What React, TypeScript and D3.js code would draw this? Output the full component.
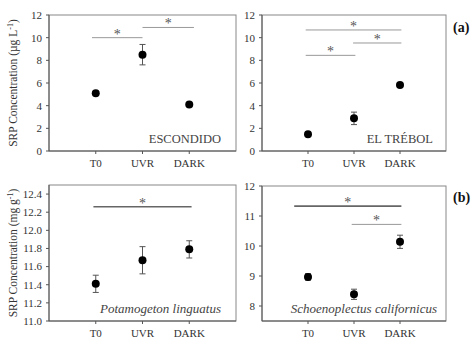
import React from "react";
import * as d3 from "d3";

const categories = ["T0", "UVR", "DARK"];

// Panel (a) left: ESCONDIDO
const escMean = [5.1, 8.5, 4.1];
const escErr = [0.15, 0.9, 0.15];
// Panel (a) right: EL TRÉBOL
const treMean = [1.47, 2.88, 5.83];
const treErr = [0.12, 0.55, 0.12];
// Panel (b) left: Potamogeton linguatus
const potMean = [11.41, 11.67, 11.79];
const potErr = [0.095, 0.15, 0.095];
// Panel (b) right: Schoenoplectus californicus
const schMean = [8.97, 8.39, 10.14];
const schErr = [0.11, 0.17, 0.22];

const escTicks = [0, 2, 4, 6, 8, 10, 12];
const treTicks = [0, 2, 4, 6, 8, 10, 12];
const potTicks = [11.0, 11.2, 11.4, 11.6, 11.8, 12.0, 12.2, 12.4];
const schTicks = [8, 9, 10, 11, 12];

// significance brackets: [from, to, yValue, dark]
const escSig = [[-0.08, 1, 10.0, 0], [1, 2.1, 10.9, 0]];
const treSig = [[-0.05, 2.03, 10.68, 0], [0.98, 2.03, 9.53, 0], [-0.05, 1.03, 8.44, 0]];
const potSig = [[-0.05, 2.05, 12.26, 1]];
const schSig = [[-0.3, 2.03, 11.33, 1], [0.95, 2.03, 10.72, 0]];

const FONT = "Liberation Serif, DejaVu Serif, serif";

type PanelProps = {
  x0: number; x1: number; yTop: number; yBot: number;
  domain: [number, number]; ticks: number[]; fmt: (v: number) => string;
  mean: number[]; err: number[]; sig: number[][];
  name: string; italic?: boolean; nameX: number;
};

function Panel(p: PanelProps) {
  const x = d3.scaleLinear().domain([-1, 3]).range([p.x0, p.x1]);
  const y = d3.scaleLinear().domain(p.domain).range([p.yBot, p.yTop]);
  const axisColor = "#555";
  const textColor = "#333";
  return (
    <g>
      <rect x={p.x0} y={p.yTop} width={p.x1 - p.x0} height={p.yBot - p.yTop} fill="none" stroke="#888" strokeWidth={1} />
      <line x1={p.x0} x2={p.x0} y1={p.yTop} y2={p.yBot} stroke={axisColor} />
      <line x1={p.x0} x2={p.x1} y1={p.yBot} y2={p.yBot} stroke={axisColor} />
      {p.ticks.map((t) => (
        <g key={t}>
          <line x1={p.x0 - 3} x2={p.x0} y1={y(t)} y2={y(t)} stroke={axisColor} />
          <text x={p.x0 - 7} y={y(t)} dy="0.35em" textAnchor="end" fontSize={11} fill={textColor}>{p.fmt(t)}</text>
        </g>
      ))}
      {categories.map((c, i) => (
        <g key={c}>
          <line x1={x(i)} x2={x(i)} y1={p.yBot} y2={p.yBot + 3} stroke={axisColor} />
          <text x={x(i)} y={p.yBot + 16} textAnchor="middle" fontSize={11} fill={textColor}>{c}</text>
        </g>
      ))}
      {p.sig.map((s, k) => (
        <g key={k}>
          <line x1={x(s[0])} x2={x(s[1])} y1={y(s[2])} y2={y(s[2])} stroke={s[3] ? "#666" : "#999"} strokeWidth={s[3] ? 1.6 : 1} />
          <text x={(x(s[0]) + x(s[1])) / 2} y={y(s[2]) + 1} textAnchor="middle" fontSize={14} fill="#555">*</text>
        </g>
      ))}
      {p.mean.map((m, i) => (
        <g key={i}>
          <line x1={x(i)} x2={x(i)} y1={y(m - p.err[i])} y2={y(m + p.err[i])} stroke="#555" />
          <line x1={x(i) - 3} x2={x(i) + 3} y1={y(m - p.err[i])} y2={y(m - p.err[i])} stroke="#555" />
          <line x1={x(i) - 3} x2={x(i) + 3} y1={y(m + p.err[i])} y2={y(m + p.err[i])} stroke="#555" />
          <circle cx={x(i)} cy={y(m)} r={4} fill="#000" />
        </g>
      ))}
      <text x={p.nameX} y={p.yBot - 8} textAnchor="end" fontSize={p.italic ? 13 : 12.5} fontStyle={p.italic ? "italic" : "normal"} fill="#444">{p.name}</text>
    </g>
  );
}

export default function App() {
  const f0 = (v: number) => d3.format("d")(v);
  const f1 = (v: number) => d3.format(".1f")(v);
  return (
    <svg width={474} height={351} style={{ position: "absolute", left: 0, top: 0, background: "#fff", fontFamily: FONT }}>
      <Panel x0={49} x1={236} yTop={15} yBot={151} domain={[0, 12]} ticks={escTicks} fmt={f0}
        mean={escMean} err={escErr} sig={escSig} name="ESCONDIDO" nameX={221} />
      <Panel x0={262} x1={446} yTop={15} yBot={151} domain={[0, 12]} ticks={treTicks} fmt={f0}
        mean={treMean} err={treErr} sig={treSig} name="EL TRÉBOL" nameX={433} />
      <Panel x0={49} x1={236} yTop={185} yBot={321} domain={[11.0, 12.5]} ticks={potTicks} fmt={f1}
        mean={potMean} err={potErr} sig={potSig} name="Potamogeton linguatus" italic nameX={221} />
      <Panel x0={262} x1={446} yTop={186} yBot={321} domain={[7.5, 12]} ticks={schTicks} fmt={f0}
        mean={schMean} err={schErr} sig={schSig} name="Schoenoplectus californicus" italic nameX={437} />
      <text transform="translate(17,83) rotate(-90)" textAnchor="middle" fontSize={11.5} fill="#333">
        SRP Concentration (µg L<tspan dy="-4" fontSize={8}>-1</tspan><tspan dy="4">)</tspan>
      </text>
      <text transform="translate(17,253) rotate(-90)" textAnchor="middle" fontSize={11.5} fill="#333">
        SRP Concentration (mg g<tspan dy="-4" fontSize={8}>-1</tspan><tspan dy="4">)</tspan>
      </text>
      <text x={453} y={32} fontSize={14} fontWeight="bold" fill="#111">(a)</text>
      <text x={453} y={202} fontSize={14} fontWeight="bold" fill="#111">(b)</text>
    </svg>
  );
}
